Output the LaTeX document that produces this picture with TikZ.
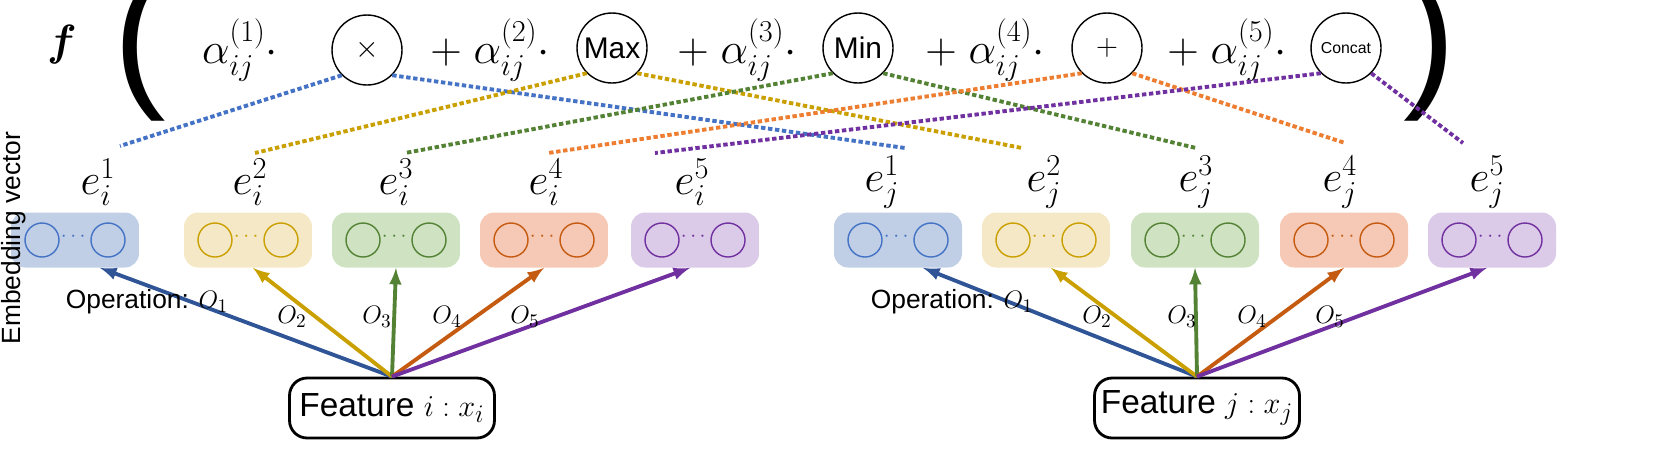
\documentclass[tikz,border=0pt]{standalone}
\usepackage{fontspec}
\setmainfont{Liberation Sans}
\usepackage{amsmath}
\usetikzlibrary{positioning,calc}
\definecolor{cblue}{HTML}{2F5597}
\definecolor{cgold}{HTML}{C9A000}
\definecolor{cgreen}{HTML}{548235}
\definecolor{corange}{HTML}{C55A11}
\definecolor{cpurple}{HTML}{7030A0}
\definecolor{lblue}{HTML}{4472C4}
\definecolor{lorange}{HTML}{ED7D31}
\definecolor{fblue}{HTML}{C0CFE6}
\definecolor{fgold}{HTML}{F4E8C6}
\definecolor{fgreen}{HTML}{CFE3C3}
\definecolor{forange}{HTML}{F5C9B5}
\definecolor{fpurple}{HTML}{DCCBE8}
\tikzset{
  emb/.style={rounded corners=8pt, minimum width=2.56cm, minimum height=1.1cm, fill=#1},
  op/.style={circle, draw, thick, minimum size=1.4cm, inner sep=0pt, font=\fontsize{17}{17}\selectfont},
  feat/.style={rounded corners=10pt, draw, line width=1.6pt, minimum width=4.1cm, minimum height=1.2cm, font=\fontsize{19}{19}\selectfont},
  dot/.style={line width=2.2pt, dash pattern=on 2.5pt off 1.5pt},
  oparr/.style={line width=2.2pt, -latex},
  lab/.style={font=\fontsize{15}{15}\selectfont},
  big/.style={font=\fontsize{24}{24}\selectfont, inner sep=1pt}
}
\newcommand{\vecnode}[4]{% name, center, fill, color
  \node[emb=#3] (#1) at #2 {};
  \draw[#4, thick] ($(#1)+(-33,0)$) circle[radius=0.34cm];
  \draw[#4, thick] ($(#1)+(33,0)$) circle[radius=0.34cm];
  \node[#4, font=\large] at ($(#1)+(0,-3)$) {\textbf{$\cdots$}};
}
\begin{document}
\begin{tikzpicture}[x=0.02cm, y=-0.02cm]
\useasboundingbox (0,0) rectangle (1679,458);
% top formula
\node[font=\fontsize{62}{62}\selectfont] at (62,45) {$\boldsymbol{f}$};
\node[font=\fontsize{90}{90}\selectfont] at (140,48) {(};
\node[font=\fontsize{90}{90}\selectfont] at (1430,48) {)};
\node[op] (o1) at (367,50) {$\times$};
\node[op] (o2) at (612,48) {Max};
\node[op] (o3) at (858,48) {Min};
\node[op] (o4) at (1107,48) {$+$};
\node[op, font=\small] (o5) at (1346,48) {Concat};
\node[big] at (240,50) {$\alpha_{ij}^{(1)}\cdot$};
\node[big] at (490,50) {$+\ \alpha_{ij}^{(2)}\cdot$};
\node[big] at (737,50) {$+\ \alpha_{ij}^{(3)}\cdot$};
\node[big] at (985,50) {$+\ \alpha_{ij}^{(4)}\cdot$};
\node[big] at (1227,50) {$+\ \alpha_{ij}^{(5)}\cdot$};
% embedding labels
\foreach \n/\x in {1/98,2/250,3/396,4/546,5/692}
  \node[big] (ei\n) at (\x,182) {$e_i^{\n}$};
\foreach \n/\x in {1/882,2/1044,3/1196,4/1340,5/1487}
  \node[big] (ej\n) at (\x,182) {$e_j^{\n}$};
% dotted links
\coordinate (a1) at (120,146); \coordinate (b1) at (905,148);
\coordinate (a2) at (255,153); \coordinate (b2) at (1022,148);
\coordinate (a3) at (405,153); \coordinate (b3) at (1196,148);
\coordinate (a4) at (548,153); \coordinate (b4) at (1345,143);
\coordinate (a5) at (655,153); \coordinate (b5) at (1463,143);
\draw[dot, lblue] (o1.south west) -- (a1);
\draw[dot, lblue] (o1.south east) -- (b1);
\draw[dot, cgold] (o2.south west) -- (a2);
\draw[dot, cgold] (o2.south east) -- (b2);
\draw[dot, cgreen] (o3.south west) -- (a3);
\draw[dot, cgreen] (o3.south east) -- (b3);
\draw[dot, lorange] (o4.south west) -- (a4);
\draw[dot, lorange] (o4.south east) -- (b4);
\draw[dot, cpurple] (o5.south west) -- (a5);
\draw[dot, cpurple] (o5.south east) -- (b5);
% vectors
\vecnode{vi1}{(75,240)}{fblue}{lblue}
\vecnode{vi2}{(248,240)}{fgold}{cgold}
\vecnode{vi3}{(396,240)}{fgreen}{cgreen}
\vecnode{vi4}{(544,240)}{forange}{corange}
\vecnode{vi5}{(695,240)}{fpurple}{cpurple}
\vecnode{vj1}{(898,240)}{fblue}{lblue}
\vecnode{vj2}{(1046,240)}{fgold}{cgold}
\vecnode{vj3}{(1195,240)}{fgreen}{cgreen}
\vecnode{vj4}{(1344,240)}{forange}{corange}
\vecnode{vj5}{(1492,240)}{fpurple}{cpurple}
\node[rotate=90, font=\fontsize{15}{15}\selectfont] at (14,238) {Embedding vector};
% features
\node[feat] (fi) at (392,408) {Feature $i:x_i$};
\node[feat] (fj) at (1197,408) {Feature $j:x_j$};
\foreach \s in {i,j}{
  \draw[oparr, cblue] (f\s.north) -- ($(v\s1.south)+(25,0)$);
  \draw[oparr, cgold] (f\s.north) -- ($(v\s2.south)+(5,0)$);
  \draw[oparr, cgreen] (f\s.north) -- (v\s3.south);
  \draw[oparr, corange] (f\s.north) -- (v\s4.south);
  \draw[oparr, cpurple] (f\s.north) -- ($(v\s5.south)+(-5,0)$);
  \node[lab] at ($(f\s.north)+(-245,-75)$) {Operation: $O_1$};
  \node[lab] at ($(f\s.north)+(-100,-60)$) {$O_2$};
  \node[lab] at ($(f\s.north)+(-15,-60)$) {$O_3$};
  \node[lab] at ($(f\s.north)+(55,-60)$) {$O_4$};
  \node[lab] at ($(f\s.north)+(133,-60)$) {$O_5$};
}
\end{tikzpicture}
\end{document}
